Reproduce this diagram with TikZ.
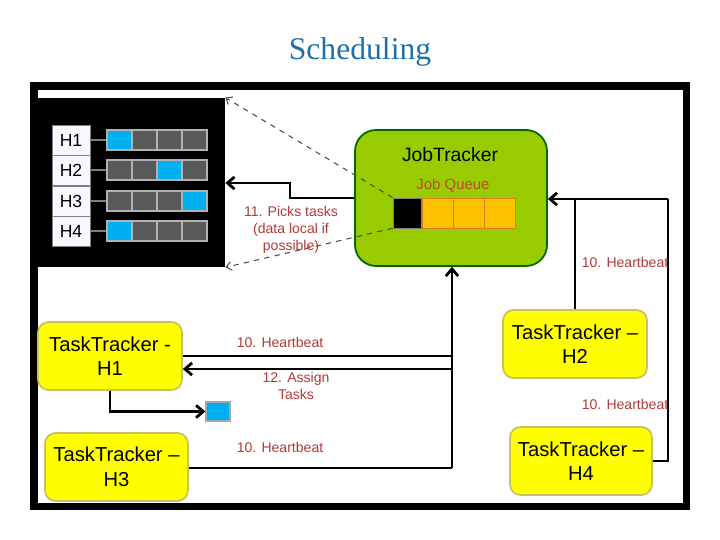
\documentclass[tikz,border=0pt]{standalone}
\usepackage{fontspec}
\setmainfont{Liberation Sans}
\usetikzlibrary{arrows.meta}
\definecolor{ttyel}{HTML}{FFFF00}
\definecolor{jtgreen}{HTML}{99CC00}
\definecolor{lbl}{HTML}{B03A3A}
\definecolor{cyanc}{HTML}{00B0F0}
\definecolor{qorange}{HTML}{FFC000}
\definecolor{titleblue}{HTML}{1F6FA8}
\begin{document}
\begin{tikzpicture}[x=0.02cm,y=-0.02cm,
  tt/.style={draw=yellow!50!gray,line width=1pt,fill=ttyel,rounded corners=6pt,align=center,font=\fontsize{11.5}{14}\selectfont},
  lab/.style={text=lbl,font=\fontsize{8}{9.5}\selectfont,align=center},
  conn/.style={line width=1.6pt,black},
  arr/.style={conn,-{Straight Barb[length=4pt,width=7pt]}},
  dashl/.style={gray!60!black,dashed,line width=0.6pt,-{Straight Barb[length=3pt,width=5pt]}}]
\useasboundingbox (0,0) rectangle (720,540);
\node[text=titleblue,font={\fontspec{Liberation Serif}\fontsize{18}{20}\selectfont}] (title) at (360,52) {Scheduling};
\fill[black] (30,82) rectangle (690,510);
\fill[white] (38,90) rectangle (683,503);
% panel
\node[fill=black,minimum width=187*0.02cm,minimum height=169*0.02cm,inner sep=0] (panel) at (131.5,182.5) {};
\foreach \r/\y/\c in {1/140/1,2/170/3,3/201/4,4/231/1}{
  \node[draw=gray,fill=blue!3,minimum width=38*0.02cm,minimum height=30*0.02cm,inner sep=0,font=\fontsize{10}{12}\selectfont] (h\r) at (71,\y) {H\r};
  \foreach \k in {1,...,4}{
    \ifnum\k=\c \def\fc{cyanc}\else\def\fc{gray!70!black}\fi
    \node[draw=gray!60,line width=0.6pt,fill=\fc,minimum width=25*0.02cm,minimum height=20*0.02cm,inner sep=0] (b\r\k) at (94.5+25*\k,\y) {};
  }
  \draw[gray,line width=1pt] (h\r.east) -- (b\r1.west);
}
% JobTracker
\node[draw=green!40!black,line width=1pt,fill=jtgreen,rounded corners=12pt,minimum width=192*0.02cm,minimum height=136*0.02cm] (jt) at (451,198) {};
\node[font=\fontsize{11}{13}\selectfont] (jtl) at (450,155) {JobTracker};
\node[text=lbl!80!orange,font=\fontsize{8.5}{10}\selectfont] (jq) at (453,186) {Job Queue};
\node[draw=gray,fill=black,minimum width=28*0.02cm,minimum height=30*0.02cm,inner sep=0] (q0) at (407,213) {};
\foreach \k in {1,2,3}{\node[draw=orange!70!gray,fill=qorange,minimum width=31*0.02cm,minimum height=30*0.02cm,inner sep=0] (q\k) at (406.5+31*\k,213) {};}
% panel links
\coordinate (c1) at (290,198);
\draw[arr] (jt.west |- 0,198) -| (c1) |- (panel.east |- 0,183);
\draw[dashl] (q0.north west) -- (panel.north east);
\draw[dashl] (q0.south west) -- (panel.south east);
\node[lab] (l11) at (291,230) {11. Picks tasks\\(data local if\\possible)};
% task trackers
\node[tt,minimum width=144*0.02cm,minimum height=68*0.02cm] (t1) at (110,356) {TaskTracker -\\H1};
\node[tt,minimum width=143*0.02cm,minimum height=68*0.02cm] (t3) at (116.5,467) {TaskTracker –\\H3};
\node[tt,minimum width=144*0.02cm,minimum height=68*0.02cm] (t2) at (575,344) {TaskTracker –\\H2};
\node[tt,minimum width=142*0.02cm,minimum height=68*0.02cm] (t4) at (581,461) {TaskTracker –\\H4};
\node[draw=gray!70,line width=0.8pt,fill=cyanc,minimum width=24*0.02cm,minimum height=19*0.02cm,inner sep=0] (sq) at (218,411.5) {};
% connectors
\coordinate (v1) at (452,356);
\coordinate (v3) at (452,468);
\draw[conn] (t3.east |- v3) -- (v3);
\draw[arr] (v3) -- (jt.south -| v3);
\draw[conn] (t1.east |- v1) -- (v1);
\draw[arr] (452,369) -- (t1.east |- 0,369);
\draw[arr] (t1.south) |- (sq.west);
\coordinate (v4) at (668,461);
\draw[conn] (t4.east) -- (v4) -- (668,199);
\draw[arr] (t2.north) |- (jt.east |- 0,199);
\draw[conn] (668,199) -- (575,199);
\node[lab] (lh1) at (280,342) {10. Heartbeat};
\node[lab] (lh3) at (280,447) {10. Heartbeat};
\node[lab] (lh2) at (625,262) {10. Heartbeat};
\node[lab] (lh4) at (625,404) {10. Heartbeat};
\node[lab] (l12) at (296,386) {12. Assign\\Tasks};
\end{tikzpicture}
\end{document}
